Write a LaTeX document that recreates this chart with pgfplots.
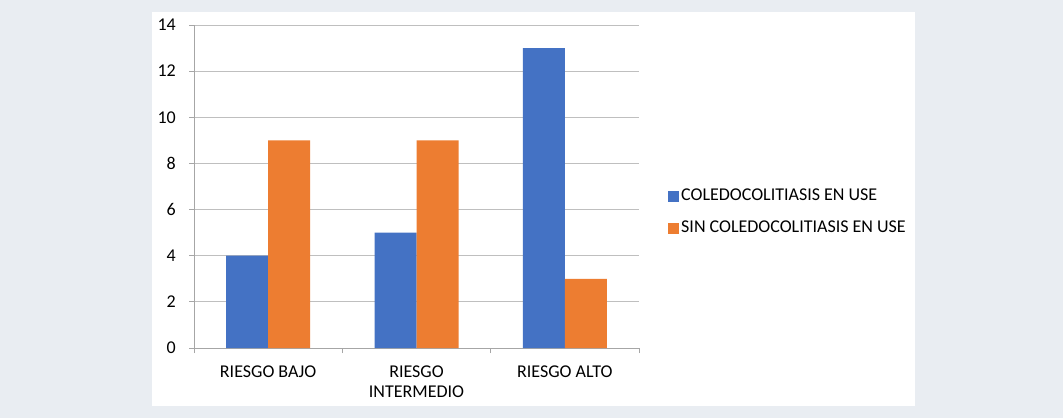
\documentclass[border=0pt]{standalone}
\usepackage{pgfplots}
\usepackage{pgfplotstable}
\pgfplotsset{compat=1.18}
\usepackage{fontspec}
\setmainfont{Carlito}
\definecolor{bg}{HTML}{E9EDF2}
\definecolor{cblue}{HTML}{4472C4}
\definecolor{corange}{HTML}{ED7D31}
\definecolor{gridc}{HTML}{BFBFBF}
\definecolor{axc}{HTML}{A6A6A6}
\pgfplotstableread{
x blue orange
0 4 9
1 5 9
2 13 3
}\datatable
\begin{document}
\fontsize{18}{20}\selectfont
\begin{tikzpicture}[x=1pt,y=1pt]
\fill[bg] (0,0) rectangle (1063,418);
\fill[white] (152,12) rectangle (915,406);
\begin{axis}[
  at={(194pt,70pt)}, anchor=south west,
  scale only axis, width=445pt, height=323pt,
  /pgf/number format/assume math mode=true,
  ticklabel style={font=\fontsize{18}{20}\selectfont},
  xmin=-0.5, xmax=2.5, ymin=0, ymax=14,
  ytick={0,2,...,14},
  ymajorgrids, grid style={gridc, line width=0.8pt},
  axis lines=left, axis line style={axc, line width=0.8pt, -},
  tick align=outside, major tick length=5pt,
  tick style={axc, line width=0.8pt},
  xtick={-0.5,0.5,1.5,2.5}, xticklabels={},
  extra x ticks={0,1,2},
  extra x tick labels={RIESGO BAJO, RIESGO\\INTERMEDIO, RIESGO ALTO},
  extra x tick style={major tick length=0pt, xticklabel style={align=center, yshift=-12pt}},
  yticklabel style={xshift=-7pt},
  ybar=0pt, bar width=42pt,
  legend style={at={(1,0.42)}, anchor=west, xshift=29pt, draw=none, fill=none,
    inner sep=0pt, row sep=13.5pt, font=\fontsize{18}{20}\selectfont},
  legend cell align=left,
  legend image code/.code={\fill[#1] (0pt,-5.5pt) rectangle (11pt,5.5pt);},
]
\addplot[fill=cblue, draw=none] table[x=x, y=blue] {\datatable};
\addplot[fill=corange, draw=none] table[x=x, y=orange] {\datatable};
\legend{COLEDOCOLITIASIS EN USE, SIN COLEDOCOLITIASIS EN USE}
\end{axis}
\end{tikzpicture}
\end{document}
